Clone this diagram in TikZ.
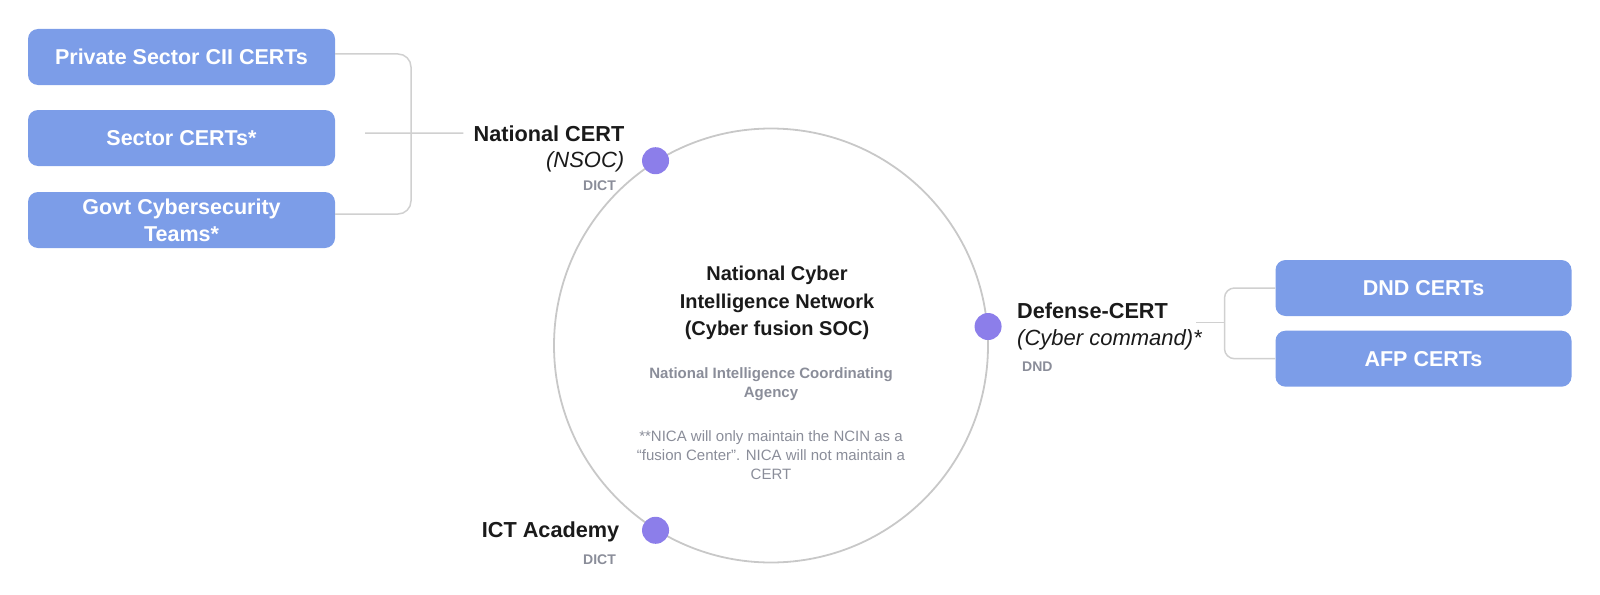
\documentclass[tikz,border=0pt]{standalone}
\usepackage{fontspec}
\setmainfont{Liberation Sans}
\definecolor{boxblue}{RGB}{124,157,232}
\definecolor{dotpurple}{RGB}{140,126,234}
\definecolor{ringgray}{RGB}{200,200,200}
\definecolor{conngray}{RGB}{208,208,208}
\definecolor{subgray}{RGB}{138,141,153}
\definecolor{ink}{RGB}{26,26,26}
\tikzset{
  certbox/.style={rectangle, rounded corners=10pt, fill=boxblue, draw=none, text=white,
    minimum height=56pt, inner sep=0pt, align=center, font=\bfseries\fontsize{21.5}{27}\selectfont},
  conn/.style={draw=conngray, line width=1.5pt},
  lbl/.style={inner sep=0pt, text=ink, font=\bfseries\fontsize{21.7}{24}\selectfont},
  lblit/.style={inner sep=0pt, text=ink, font=\itshape\fontsize{22}{24}\selectfont},
  sublbl/.style={inner sep=0pt, text=subgray, font=\bfseries\fontsize{14}{16}\selectfont},
  dotnode/.style={circle, fill=dotpurple, minimum size=27pt, inner sep=0pt},
}
\begin{document}
\begin{tikzpicture}[x=1pt,y=-1pt]
\useasboundingbox (0,0) rectangle (1600,594);
% ring
\node[circle, draw=ringgray, line width=1.8pt, minimum size=434pt, inner sep=0pt] (ring) at (771,345.5) {};
% left boxes
\node[certbox, minimum width=307pt] (p1) at (181.5,57) {Private Sector CII CERTs};
\node[certbox, minimum width=307pt] (p2) at (181.5,138) {Sector CERTs*};
\node[certbox, minimum width=307pt] (p3) at (181.5,220) {Govt Cybersecurity\\Teams*};
% right boxes
\node[certbox, minimum width=296pt] (dndc) at (1423.5,288) {DND CERTs};
\node[certbox, minimum width=296pt] (afp) at (1423.5,358.7) {AFP CERTs};
% dots
\node[dotnode] (dnsoc) at (ring.122.7) {};
\node[dotnode] (ddef) at (ring.5.5) {};
\node[dotnode] (dict) at (ring.-122.7) {};
% National CERT labels
\node[lbl, anchor=base east] (nat) at (624.5,141) {National CERT};
\node[lblit, anchor=base east] (nsoc) at (624.5,167) {(NSOC)};
\node[sublbl, anchor=base east] (dict1) at (616,190) {DICT};
% Defense labels
\node[lbl, anchor=base west] (dc) at (1017,318) {Defense-CERT};
\node[lblit, anchor=base west] (cc) at (1017,345) {(Cyber command)*};
\node[sublbl, anchor=base west] (dnd) at (1022,371) {DND};
% ICT labels
\node[lbl, anchor=base east] (ict) at (619.5,537.5) {ICT Academy};
\node[sublbl, anchor=base east] (dict2) at (616,564) {DICT};
% centre text
\node[align=center, inner sep=0pt, text=ink, font=\bfseries\fontsize{20}{27.5}\selectfont] (title) at (777,303) {National Cyber\\Intelligence Network\\(Cyber fusion SOC)};
\node[align=center, inner sep=0pt, text=subgray, font=\bfseries\fontsize{15}{18.5}\selectfont] (agency) at (771,384) {National Intelligence Coordinating\\Agency};
\node[align=center, inner sep=0pt, text=subgray, font=\fontsize{15}{19}\selectfont] (note) at (771,455) {**NICA will only maintain the NCIN as a\\“fusion Center”. NICA will not maintain a\\CERT};
% left bracket
\coordinate (lj) at (411,133);
\coordinate (ms) at (365,133);
\draw[conn, rounded corners=13pt] ([yshift=3pt]p1.east) -- ([yshift=3pt]p1.east -| lj) -- ([yshift=6pt]p3.east -| lj) -- ([yshift=6pt]p3.east);
\draw[conn] (ms) -- ([xshift=-10pt]nat.west);
% right bracket
\coordinate (rj) at (1224.5,322.5);
\coordinate (rs) at (1196,322.5);
\draw[conn, rounded corners=10pt] (dndc.west) -- (dndc.west -| rj) -- (afp.west -| rj) -- (afp.west);
\draw[conn] (rs) -- (rj);
\end{tikzpicture}
\end{document}
